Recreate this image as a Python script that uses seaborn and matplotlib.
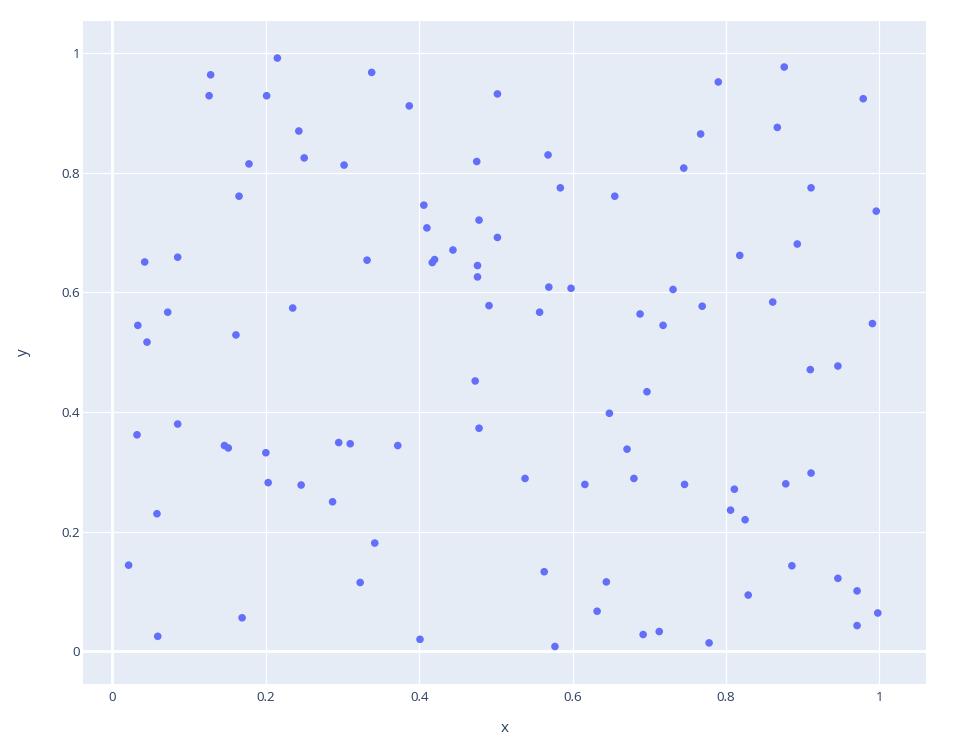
import matplotlib
matplotlib.use("Agg")
import matplotlib.pyplot as plt
import seaborn as sns
import pandas as pd
from matplotlib.ticker import FuncFormatter, MultipleLocator

# values
x = [0.128, 0.126, 0.201, 0.215, 0.338, 0.387, 0.502, 0.243, 0.250, 0.178,
     0.302, 0.165, 0.042, 0.085, 0.072, 0.033, 0.045, 0.161, 0.235, 0.332,
     0.406, 0.410, 0.420, 0.417, 0.444, 0.475, 0.478, 0.476, 0.476, 0.502,
     0.491, 0.568, 0.584, 0.655, 0.569, 0.598, 0.557, 0.745, 0.767, 0.790,
     0.876, 0.867, 0.979, 0.911, 0.996, 0.818, 0.893, 0.731, 0.688, 0.718,
     0.769, 0.861, 0.991, 0.910, 0.946, 0.473, 0.478, 0.648, 0.697, 0.671,
     0.538, 0.616, 0.680, 0.746, 0.811, 0.806, 0.825, 0.878, 0.911, 0.032,
     0.085, 0.146, 0.151, 0.200, 0.203, 0.246, 0.295, 0.310, 0.372, 0.287,
     0.342, 0.323, 0.058, 0.021, 0.059, 0.169, 0.401, 0.563, 0.577, 0.644,
     0.632, 0.692, 0.713, 0.778, 0.829, 0.886, 0.946, 0.971, 0.971, 0.998]
y = [0.964, 0.929, 0.929, 0.992, 0.968, 0.912, 0.932, 0.870, 0.825, 0.815,
     0.813, 0.761, 0.651, 0.659, 0.567, 0.545, 0.517, 0.529, 0.574, 0.654,
     0.746, 0.708, 0.655, 0.650, 0.671, 0.819, 0.721, 0.645, 0.626, 0.692,
     0.578, 0.830, 0.775, 0.761, 0.609, 0.607, 0.567, 0.808, 0.865, 0.952,
     0.977, 0.876, 0.924, 0.775, 0.736, 0.662, 0.681, 0.605, 0.564, 0.545,
     0.577, 0.584, 0.548, 0.471, 0.477, 0.452, 0.373, 0.398, 0.434, 0.338,
     0.289, 0.279, 0.289, 0.279, 0.271, 0.236, 0.220, 0.280, 0.298, 0.362,
     0.380, 0.344, 0.340, 0.332, 0.282, 0.278, 0.349, 0.347, 0.344, 0.250,
     0.181, 0.115, 0.230, 0.144, 0.025, 0.056, 0.020, 0.133, 0.008, 0.116,
     0.067, 0.028, 0.033, 0.014, 0.094, 0.143, 0.122, 0.101, 0.043, 0.064]

df = pd.DataFrame({"x": x, "y": y})

sns.set_style("darkgrid", {"axes.facecolor": "#E5ECF6", "grid.color": "white"})
plt.rcParams["font.family"] = ["Open Sans", "DejaVu Sans"]

fig = plt.figure(figsize=(9.57, 7.49), dpi=100)
ax = fig.add_axes([0.0867, 0.0868, 0.8806, 0.8852])

sns.scatterplot(data=df, x="x", y="y", ax=ax, color="#636EFA", s=30,
                edgecolor="none", zorder=3)

ax.set_xlim(-0.0385, 1.0605)
ax.set_ylim(-0.0547, 1.054)
ax.xaxis.set_major_locator(MultipleLocator(0.2))
ax.yaxis.set_major_locator(MultipleLocator(0.2))
fmt = FuncFormatter(lambda v, p: f"{v:g}" if abs(v) > 1e-9 else "0")
ax.xaxis.set_major_formatter(fmt)
ax.yaxis.set_major_formatter(fmt)
ax.grid(True, color="white", linewidth=0.9)
ax.axvline(0, color="white", linewidth=2, zorder=1)
ax.axhline(0, color="white", linewidth=2, zorder=1)
for s in ax.spines.values():
    s.set_visible(False)

ax.tick_params(axis="x", length=0, pad=5, labelsize=9.6, labelcolor="#2a3f5f")
ax.tick_params(axis="y", length=0, pad=2, labelsize=9.6, labelcolor="#2a3f5f")
ax.set_xlabel("x", fontsize=11, color="#2a3f5f", labelpad=12)
ax.set_ylabel("y", fontsize=11, color="#2a3f5f", labelpad=22)

fig.savefig("out.png", dpi=100, facecolor="white")
